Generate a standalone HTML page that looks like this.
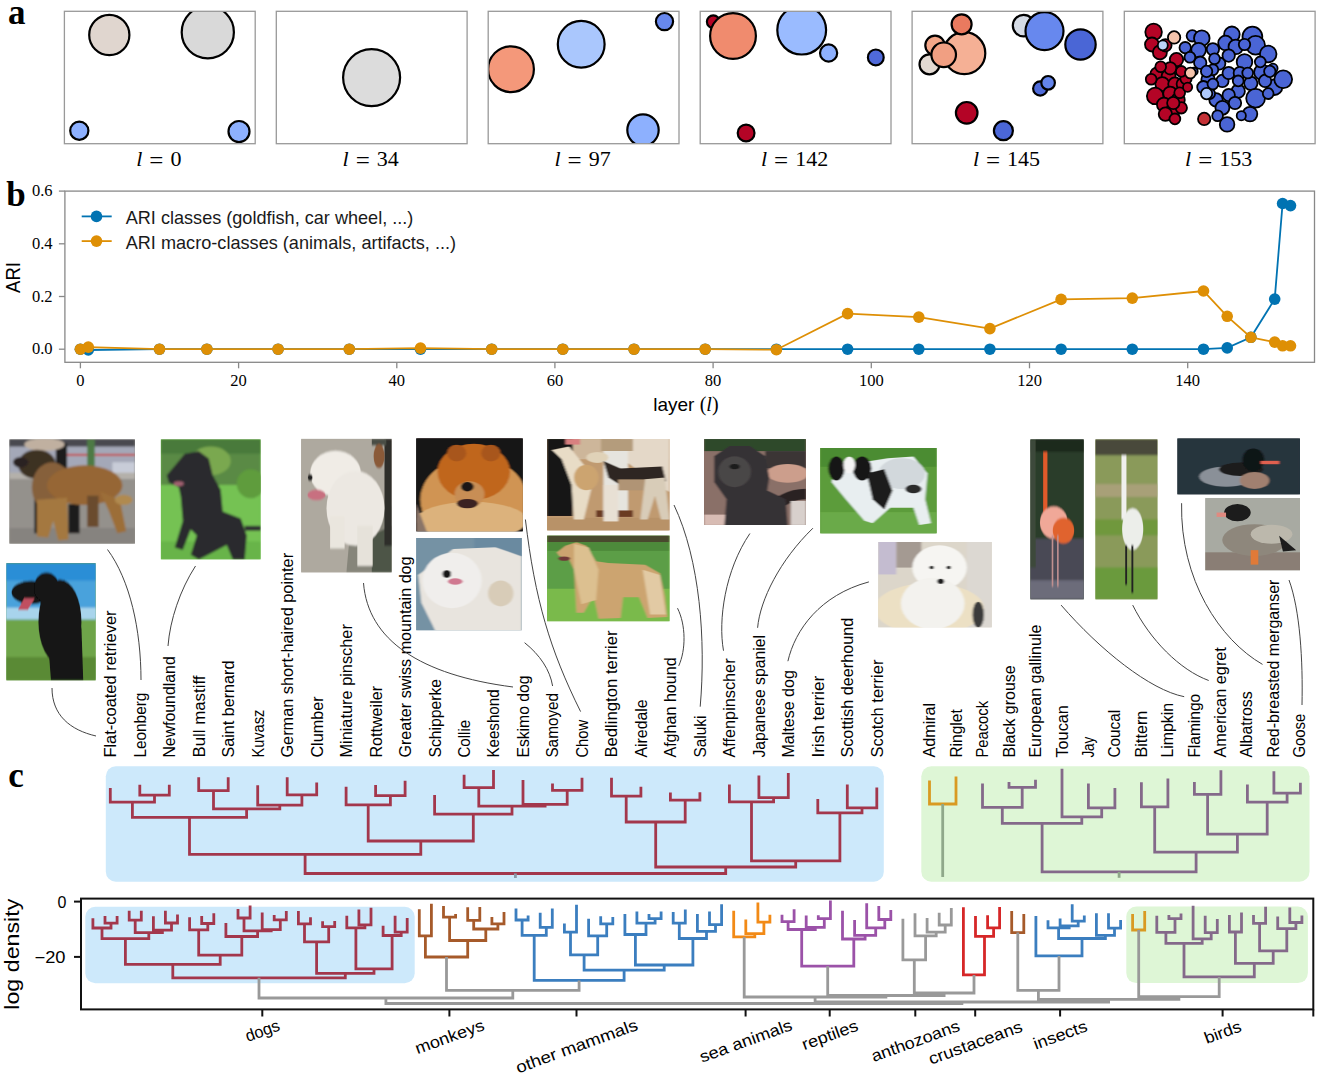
<!DOCTYPE html>
<html><head><meta charset="utf-8"><style>html,body{margin:0;padding:0;background:#fff;}svg{display:block;}</style></head>
<body><svg width="1328" height="1079" viewBox="0 0 1328 1079">
<rect width="1328" height="1079" fill="#fff"/>
<text x="8" y="23.5" font-family='"Liberation Serif", serif' font-weight="bold" font-size="35">a</text>
<text x="6.3" y="205.5" font-family='"Liberation Serif", serif' font-weight="bold" font-size="35">b</text>
<text x="8.2" y="787" font-family='"Liberation Serif", serif' font-weight="bold" font-size="35">c</text>
<defs>
<clipPath id="ca0"><rect x="64.4" y="11.3" width="190.8" height="132.4"/></clipPath>
<clipPath id="ca1"><rect x="276.3" y="11.3" width="190.8" height="132.4"/></clipPath>
<clipPath id="ca2"><rect x="488.2" y="11.3" width="190.8" height="132.4"/></clipPath>
<clipPath id="ca3"><rect x="700.2" y="11.3" width="190.8" height="132.4"/></clipPath>
<clipPath id="ca4"><rect x="912.1" y="11.3" width="190.8" height="132.4"/></clipPath>
<clipPath id="ca5"><rect x="1124.3" y="11.3" width="190.8" height="132.4"/></clipPath>
</defs>
<g clip-path="url(#ca0)">
<circle cx="109.3" cy="35.0" r="20.1" fill="#e0d6cf" stroke="#000" stroke-width="2.2"/>
<circle cx="207.8" cy="32.2" r="26.1" fill="#d9d9d9" stroke="#000" stroke-width="2.2"/>
<circle cx="79.3" cy="130.7" r="9.1" fill="#8db0fe" stroke="#000" stroke-width="2.2"/>
<circle cx="239.0" cy="131.5" r="10.5" fill="#8db0fe" stroke="#000" stroke-width="2.2"/>
</g>
<rect x="64.4" y="11.3" width="190.8" height="132.4" fill="none" stroke="#999" stroke-width="1.3"/>
<text x="158.8" y="166" text-anchor="middle" font-family='"Liberation Serif", serif' font-size="22"><tspan font-style="italic">l</tspan><tspan dx="7" dy="2.5" font-size="25">=</tspan><tspan dx="7" dy="-2.5">0</tspan></text>
<g clip-path="url(#ca1)">
<circle cx="371.6" cy="77.6" r="28.5" fill="#dcdcdc" stroke="#000" stroke-width="2.2"/>
</g>
<rect x="276.3" y="11.3" width="190.8" height="132.4" fill="none" stroke="#999" stroke-width="1.3"/>
<text x="370.70000000000005" y="166" text-anchor="middle" font-family='"Liberation Serif", serif' font-size="22"><tspan font-style="italic">l</tspan><tspan dx="7" dy="2.5" font-size="25">=</tspan><tspan dx="7" dy="-2.5">34</tspan></text>
<g clip-path="url(#ca2)">
<circle cx="511.0" cy="69.2" r="22.9" fill="#f4987a" stroke="#000" stroke-width="2.2"/>
<circle cx="581.2" cy="44.3" r="23.4" fill="#aac7fd" stroke="#000" stroke-width="2.2"/>
<circle cx="664.5" cy="21.6" r="8.6" fill="#6788ee" stroke="#000" stroke-width="2.2"/>
<circle cx="643.0" cy="130.1" r="15.7" fill="#8db0fe" stroke="#000" stroke-width="2.2"/>
</g>
<rect x="488.2" y="11.3" width="190.8" height="132.4" fill="none" stroke="#999" stroke-width="1.3"/>
<text x="582.6" y="166" text-anchor="middle" font-family='"Liberation Serif", serif' font-size="22"><tspan font-style="italic">l</tspan><tspan dx="7" dy="2.5" font-size="25">=</tspan><tspan dx="7" dy="-2.5">97</tspan></text>
<g clip-path="url(#ca3)">
<circle cx="713.3" cy="21.7" r="6.4" fill="#b40426" stroke="#000" stroke-width="2.2"/>
<circle cx="733.0" cy="36.0" r="22.9" fill="#f08b6e" stroke="#000" stroke-width="2.2"/>
<circle cx="801.7" cy="30.1" r="24.4" fill="#9abbff" stroke="#000" stroke-width="2.2"/>
<circle cx="828.6" cy="53.0" r="8.6" fill="#8db0fe" stroke="#000" stroke-width="2.2"/>
<circle cx="875.8" cy="57.4" r="7.9" fill="#4f69d9" stroke="#000" stroke-width="2.2"/>
<circle cx="746.1" cy="133.0" r="8.4" fill="#b40426" stroke="#000" stroke-width="2.2"/>
</g>
<rect x="700.2" y="11.3" width="190.8" height="132.4" fill="none" stroke="#999" stroke-width="1.3"/>
<text x="794.6" y="166" text-anchor="middle" font-family='"Liberation Serif", serif' font-size="22"><tspan font-style="italic">l</tspan><tspan dx="7" dy="2.5" font-size="25">=</tspan><tspan dx="7" dy="-2.5">142</tspan></text>
<g clip-path="url(#ca4)">
<circle cx="929.5" cy="64.3" r="10.0" fill="#e2d9d2" stroke="#000" stroke-width="2.2"/>
<circle cx="964.3" cy="53.2" r="21.0" fill="#f5b095" stroke="#000" stroke-width="2.2"/>
<circle cx="935.0" cy="45.3" r="9.7" fill="#f3a688" stroke="#000" stroke-width="2.2"/>
<circle cx="943.7" cy="54.8" r="12.3" fill="#f19f82" stroke="#000" stroke-width="2.2"/>
<circle cx="961.6" cy="24.3" r="10.0" fill="#e97a5f" stroke="#000" stroke-width="2.2"/>
<circle cx="1023.6" cy="25.6" r="10.8" fill="#d5dbe5" stroke="#000" stroke-width="2.2"/>
<circle cx="1044.5" cy="31.1" r="19.0" fill="#6788ee" stroke="#000" stroke-width="2.2"/>
<circle cx="1080.5" cy="44.5" r="15.2" fill="#4a66d6" stroke="#000" stroke-width="2.2"/>
<circle cx="1040.2" cy="88.5" r="7.1" fill="#4f6bd9" stroke="#000" stroke-width="2.2"/>
<circle cx="1048.1" cy="82.8" r="6.8" fill="#6384eb" stroke="#000" stroke-width="2.2"/>
<circle cx="966.7" cy="112.8" r="10.8" fill="#b40426" stroke="#000" stroke-width="2.2"/>
<circle cx="1003.4" cy="130.7" r="9.5" fill="#4b67d7" stroke="#000" stroke-width="2.2"/>
</g>
<rect x="912.1" y="11.3" width="190.8" height="132.4" fill="none" stroke="#999" stroke-width="1.3"/>
<text x="1006.5" y="166" text-anchor="middle" font-family='"Liberation Serif", serif' font-size="22"><tspan font-style="italic">l</tspan><tspan dx="7" dy="2.5" font-size="25">=</tspan><tspan dx="7" dy="-2.5">145</tspan></text>
<g clip-path="url(#ca5)">
<circle cx="1153.6" cy="31.9" r="8.3" fill="#b40426" stroke="#000" stroke-width="1.8"/>
<circle cx="1152.0" cy="44.5" r="7.0" fill="#b40426" stroke="#000" stroke-width="1.8"/>
<circle cx="1159.9" cy="52.4" r="7.0" fill="#b40426" stroke="#000" stroke-width="1.8"/>
<circle cx="1165.4" cy="45.3" r="6.2" fill="#b40426" stroke="#000" stroke-width="1.8"/>
<circle cx="1176.5" cy="59.6" r="6.7" fill="#b40426" stroke="#000" stroke-width="1.8"/>
<circle cx="1157.5" cy="74.6" r="7.3" fill="#b40426" stroke="#000" stroke-width="1.8"/>
<circle cx="1168.6" cy="76.2" r="7.0" fill="#b40426" stroke="#000" stroke-width="1.8"/>
<circle cx="1162.3" cy="84.1" r="7.0" fill="#b40426" stroke="#000" stroke-width="1.8"/>
<circle cx="1174.9" cy="84.1" r="6.7" fill="#b40426" stroke="#000" stroke-width="1.8"/>
<circle cx="1182.8" cy="84.1" r="6.2" fill="#b40426" stroke="#000" stroke-width="1.8"/>
<circle cx="1155.2" cy="95.9" r="8.3" fill="#b40426" stroke="#000" stroke-width="1.8"/>
<circle cx="1170.2" cy="93.6" r="7.0" fill="#b40426" stroke="#000" stroke-width="1.8"/>
<circle cx="1178.1" cy="99.9" r="6.7" fill="#b40426" stroke="#000" stroke-width="1.8"/>
<circle cx="1163.9" cy="104.6" r="7.0" fill="#b40426" stroke="#000" stroke-width="1.8"/>
<circle cx="1171.8" cy="112.5" r="7.3" fill="#b40426" stroke="#000" stroke-width="1.8"/>
<circle cx="1165.4" cy="114.1" r="6.7" fill="#b40426" stroke="#000" stroke-width="1.8"/>
<circle cx="1181.3" cy="107.8" r="5.7" fill="#b40426" stroke="#000" stroke-width="1.8"/>
<circle cx="1186.0" cy="78.5" r="5.7" fill="#b40426" stroke="#000" stroke-width="1.8"/>
<circle cx="1170.2" cy="68.3" r="6.2" fill="#b40426" stroke="#000" stroke-width="1.8"/>
<circle cx="1181.3" cy="71.4" r="5.4" fill="#b40426" stroke="#000" stroke-width="1.8"/>
<circle cx="1160.7" cy="66.7" r="5.4" fill="#b40426" stroke="#000" stroke-width="1.8"/>
<circle cx="1151.2" cy="79.3" r="5.4" fill="#b40426" stroke="#000" stroke-width="1.8"/>
<circle cx="1173.3" cy="103.0" r="6.2" fill="#b40426" stroke="#000" stroke-width="1.8"/>
<circle cx="1179.7" cy="92.8" r="5.4" fill="#b40426" stroke="#000" stroke-width="1.8"/>
<circle cx="1187.6" cy="87.2" r="4.6" fill="#b40426" stroke="#000" stroke-width="1.8"/>
<circle cx="1174.9" cy="118.9" r="5.4" fill="#b40426" stroke="#000" stroke-width="1.8"/>
<circle cx="1174.1" cy="37.4" r="6.2" fill="#f5c4ac" stroke="#000" stroke-width="1.8"/>
<circle cx="1162.8" cy="45.3" r="5.0" fill="#bcd2f7" stroke="#000" stroke-width="1.8"/>
<circle cx="1192.3" cy="35.8" r="5.7" fill="#4a65d5" stroke="#000" stroke-width="1.8"/>
<circle cx="1201.8" cy="38.2" r="7.8" fill="#4a65d5" stroke="#000" stroke-width="1.8"/>
<circle cx="1185.2" cy="47.7" r="5.7" fill="#4a65d5" stroke="#000" stroke-width="1.8"/>
<circle cx="1212.9" cy="49.3" r="6.2" fill="#4a65d5" stroke="#000" stroke-width="1.8"/>
<circle cx="1198.6" cy="50.1" r="7.3" fill="#4a65d5" stroke="#000" stroke-width="1.8"/>
<circle cx="1200.2" cy="62.7" r="6.2" fill="#4a65d5" stroke="#000" stroke-width="1.8"/>
<circle cx="1219.2" cy="63.5" r="6.2" fill="#4a65d5" stroke="#000" stroke-width="1.8"/>
<circle cx="1231.9" cy="34.3" r="7.8" fill="#4a65d5" stroke="#000" stroke-width="1.8"/>
<circle cx="1225.5" cy="43.0" r="7.3" fill="#4a65d5" stroke="#000" stroke-width="1.8"/>
<circle cx="1235.8" cy="46.9" r="7.3" fill="#4a65d5" stroke="#000" stroke-width="1.8"/>
<circle cx="1252.4" cy="36.6" r="9.9" fill="#4a65d5" stroke="#000" stroke-width="1.8"/>
<circle cx="1255.6" cy="45.3" r="9.4" fill="#4a65d5" stroke="#000" stroke-width="1.8"/>
<circle cx="1268.2" cy="54.0" r="8.3" fill="#4a65d5" stroke="#000" stroke-width="1.8"/>
<circle cx="1244.5" cy="61.9" r="7.8" fill="#4a65d5" stroke="#000" stroke-width="1.8"/>
<circle cx="1273.0" cy="68.3" r="4.6" fill="#4a65d5" stroke="#000" stroke-width="1.8"/>
<circle cx="1261.9" cy="72.2" r="7.8" fill="#4a65d5" stroke="#000" stroke-width="1.8"/>
<circle cx="1274.5" cy="87.2" r="7.8" fill="#4a65d5" stroke="#000" stroke-width="1.8"/>
<circle cx="1283.2" cy="79.3" r="8.9" fill="#4a65d5" stroke="#000" stroke-width="1.8"/>
<circle cx="1250.8" cy="83.3" r="6.7" fill="#4a65d5" stroke="#000" stroke-width="1.8"/>
<circle cx="1238.2" cy="91.2" r="6.7" fill="#4a65d5" stroke="#000" stroke-width="1.8"/>
<circle cx="1222.4" cy="80.9" r="6.2" fill="#4a65d5" stroke="#000" stroke-width="1.8"/>
<circle cx="1208.1" cy="79.3" r="6.7" fill="#4a65d5" stroke="#000" stroke-width="1.8"/>
<circle cx="1203.4" cy="87.2" r="6.2" fill="#4a65d5" stroke="#000" stroke-width="1.8"/>
<circle cx="1216.0" cy="99.9" r="6.7" fill="#4a65d5" stroke="#000" stroke-width="1.8"/>
<circle cx="1228.7" cy="95.1" r="6.2" fill="#4a65d5" stroke="#000" stroke-width="1.8"/>
<circle cx="1222.4" cy="107.8" r="7.0" fill="#4a65d5" stroke="#000" stroke-width="1.8"/>
<circle cx="1235.0" cy="103.0" r="6.2" fill="#4a65d5" stroke="#000" stroke-width="1.8"/>
<circle cx="1255.6" cy="98.3" r="9.4" fill="#4a65d5" stroke="#000" stroke-width="1.8"/>
<circle cx="1250.0" cy="114.1" r="7.3" fill="#4a65d5" stroke="#000" stroke-width="1.8"/>
<circle cx="1227.1" cy="124.4" r="7.3" fill="#4a65d5" stroke="#000" stroke-width="1.8"/>
<circle cx="1193.9" cy="71.4" r="3.8" fill="#4a65d5" stroke="#000" stroke-width="1.8"/>
<circle cx="1212.9" cy="69.8" r="5.4" fill="#4a65d5" stroke="#000" stroke-width="1.8"/>
<circle cx="1228.7" cy="73.0" r="6.2" fill="#4a65d5" stroke="#000" stroke-width="1.8"/>
<circle cx="1239.8" cy="73.0" r="6.2" fill="#4a65d5" stroke="#000" stroke-width="1.8"/>
<circle cx="1214.5" cy="58.8" r="5.4" fill="#4a65d5" stroke="#000" stroke-width="1.8"/>
<circle cx="1228.7" cy="55.6" r="6.2" fill="#4a65d5" stroke="#000" stroke-width="1.8"/>
<circle cx="1238.2" cy="80.9" r="5.4" fill="#4a65d5" stroke="#000" stroke-width="1.8"/>
<circle cx="1265.1" cy="80.9" r="6.2" fill="#4a65d5" stroke="#000" stroke-width="1.8"/>
<circle cx="1268.2" cy="93.6" r="5.4" fill="#4a65d5" stroke="#000" stroke-width="1.8"/>
<circle cx="1209.7" cy="93.6" r="5.4" fill="#4a65d5" stroke="#000" stroke-width="1.8"/>
<circle cx="1260.3" cy="61.9" r="5.4" fill="#4a65d5" stroke="#000" stroke-width="1.8"/>
<circle cx="1247.7" cy="73.0" r="5.4" fill="#4a65d5" stroke="#000" stroke-width="1.8"/>
<circle cx="1189.9" cy="57.2" r="5.4" fill="#4a65d5" stroke="#000" stroke-width="1.8"/>
<circle cx="1206.6" cy="71.4" r="5.7" fill="#4a65d5" stroke="#000" stroke-width="1.8"/>
<circle cx="1212.9" cy="84.1" r="5.4" fill="#4a65d5" stroke="#000" stroke-width="1.8"/>
<circle cx="1244.5" cy="44.5" r="5.7" fill="#4a65d5" stroke="#000" stroke-width="1.8"/>
<circle cx="1269.8" cy="71.4" r="5.7" fill="#4a65d5" stroke="#000" stroke-width="1.8"/>
<circle cx="1217.6" cy="115.7" r="5.4" fill="#4a65d5" stroke="#000" stroke-width="1.8"/>
<circle cx="1241.3" cy="115.7" r="4.6" fill="#4a65d5" stroke="#000" stroke-width="1.8"/>
<circle cx="1190.4" cy="73.0" r="5.4" fill="#f5c4ac" stroke="#000" stroke-width="1.8"/>
<circle cx="1206.6" cy="93.6" r="5.7" fill="#aec9fc" stroke="#000" stroke-width="1.8"/>
<circle cx="1204.2" cy="118.9" r="6.2" fill="#c43136" stroke="#000" stroke-width="1.8"/>
</g>
<rect x="1124.3" y="11.3" width="190.8" height="132.4" fill="none" stroke="#999" stroke-width="1.3"/>
<text x="1218.7" y="166" text-anchor="middle" font-family='"Liberation Serif", serif' font-size="22"><tspan font-style="italic">l</tspan><tspan dx="7" dy="2.5" font-size="25">=</tspan><tspan dx="7" dy="-2.5">153</tspan></text>
<rect x="64.9" y="191.1" width="1249.6" height="171.20000000000002" fill="none" stroke="#888" stroke-width="1.3"/>
<line x1="58.900000000000006" y1="349.2" x2="64.9" y2="349.2" stroke="#888" stroke-width="1.3"/>
<text x="52.5" y="354.2" text-anchor="end" font-family='"Liberation Serif", serif' font-size="16.5">0.0</text>
<line x1="58.900000000000006" y1="296.5" x2="64.9" y2="296.5" stroke="#888" stroke-width="1.3"/>
<text x="52.5" y="301.5" text-anchor="end" font-family='"Liberation Serif", serif' font-size="16.5">0.2</text>
<line x1="58.900000000000006" y1="243.8" x2="64.9" y2="243.8" stroke="#888" stroke-width="1.3"/>
<text x="52.5" y="248.8" text-anchor="end" font-family='"Liberation Serif", serif' font-size="16.5">0.4</text>
<line x1="58.900000000000006" y1="191.1" x2="64.9" y2="191.1" stroke="#888" stroke-width="1.3"/>
<text x="52.5" y="196.1" text-anchor="end" font-family='"Liberation Serif", serif' font-size="16.5">0.6</text>
<line x1="80.4" y1="362.3" x2="80.4" y2="368.3" stroke="#888" stroke-width="1.3"/>
<text x="80.4" y="385.6" text-anchor="middle" font-family='"Liberation Serif", serif' font-size="16.5">0</text>
<line x1="238.6" y1="362.3" x2="238.6" y2="368.3" stroke="#888" stroke-width="1.3"/>
<text x="238.6" y="385.6" text-anchor="middle" font-family='"Liberation Serif", serif' font-size="16.5">20</text>
<line x1="396.8" y1="362.3" x2="396.8" y2="368.3" stroke="#888" stroke-width="1.3"/>
<text x="396.8" y="385.6" text-anchor="middle" font-family='"Liberation Serif", serif' font-size="16.5">40</text>
<line x1="554.9" y1="362.3" x2="554.9" y2="368.3" stroke="#888" stroke-width="1.3"/>
<text x="554.9" y="385.6" text-anchor="middle" font-family='"Liberation Serif", serif' font-size="16.5">60</text>
<line x1="713.1" y1="362.3" x2="713.1" y2="368.3" stroke="#888" stroke-width="1.3"/>
<text x="713.1" y="385.6" text-anchor="middle" font-family='"Liberation Serif", serif' font-size="16.5">80</text>
<line x1="871.3" y1="362.3" x2="871.3" y2="368.3" stroke="#888" stroke-width="1.3"/>
<text x="871.3" y="385.6" text-anchor="middle" font-family='"Liberation Serif", serif' font-size="16.5">100</text>
<line x1="1029.5" y1="362.3" x2="1029.5" y2="368.3" stroke="#888" stroke-width="1.3"/>
<text x="1029.5" y="385.6" text-anchor="middle" font-family='"Liberation Serif", serif' font-size="16.5">120</text>
<line x1="1187.7" y1="362.3" x2="1187.7" y2="368.3" stroke="#888" stroke-width="1.3"/>
<text x="1187.7" y="385.6" text-anchor="middle" font-family='"Liberation Serif", serif' font-size="16.5">140</text>
<polyline points="80.4,349.2 88.3,350.0 159.5,349.2 206.9,349.2 278.1,349.2 349.3,349.2 420.5,349.2 491.7,349.2 562.8,349.2 634.0,349.2 705.2,349.2 776.4,349.2 847.6,349.2 918.8,349.2 989.9,349.2 1061.1,349.2 1132.3,349.2 1203.5,349.2 1227.2,347.9 1250.9,337.3 1274.7,299.1 1282.6,203.5 1290.5,205.6" fill="none" stroke="#0173b2" stroke-width="1.8"/>
<circle cx="80.4" cy="349.2" r="5.8" fill="#0173b2"/>
<circle cx="88.3" cy="350.0" r="5.8" fill="#0173b2"/>
<circle cx="159.5" cy="349.2" r="5.8" fill="#0173b2"/>
<circle cx="206.9" cy="349.2" r="5.8" fill="#0173b2"/>
<circle cx="278.1" cy="349.2" r="5.8" fill="#0173b2"/>
<circle cx="349.3" cy="349.2" r="5.8" fill="#0173b2"/>
<circle cx="420.5" cy="349.2" r="5.8" fill="#0173b2"/>
<circle cx="491.7" cy="349.2" r="5.8" fill="#0173b2"/>
<circle cx="562.8" cy="349.2" r="5.8" fill="#0173b2"/>
<circle cx="634.0" cy="349.2" r="5.8" fill="#0173b2"/>
<circle cx="705.2" cy="349.2" r="5.8" fill="#0173b2"/>
<circle cx="776.4" cy="349.2" r="5.8" fill="#0173b2"/>
<circle cx="847.6" cy="349.2" r="5.8" fill="#0173b2"/>
<circle cx="918.8" cy="349.2" r="5.8" fill="#0173b2"/>
<circle cx="989.9" cy="349.2" r="5.8" fill="#0173b2"/>
<circle cx="1061.1" cy="349.2" r="5.8" fill="#0173b2"/>
<circle cx="1132.3" cy="349.2" r="5.8" fill="#0173b2"/>
<circle cx="1203.5" cy="349.2" r="5.8" fill="#0173b2"/>
<circle cx="1227.2" cy="347.9" r="5.8" fill="#0173b2"/>
<circle cx="1250.9" cy="337.3" r="5.8" fill="#0173b2"/>
<circle cx="1274.7" cy="299.1" r="5.8" fill="#0173b2"/>
<circle cx="1282.6" cy="203.5" r="5.8" fill="#0173b2"/>
<circle cx="1290.5" cy="205.6" r="5.8" fill="#0173b2"/>
<polyline points="80.4,349.2 88.3,347.1 159.5,349.2 206.9,349.2 278.1,349.2 349.3,349.2 420.5,348.1 491.7,349.2 562.8,349.2 634.0,349.2 705.2,349.2 776.4,349.7 847.6,313.6 918.8,317.1 989.9,328.6 1061.1,299.4 1132.3,298.1 1203.5,291.0 1227.2,316.3 1250.9,337.3 1274.7,342.1 1282.6,345.8 1290.5,345.8" fill="none" stroke="#de8f05" stroke-width="1.8"/>
<circle cx="80.4" cy="349.2" r="5.8" fill="#de8f05"/>
<circle cx="88.3" cy="347.1" r="5.8" fill="#de8f05"/>
<circle cx="159.5" cy="349.2" r="5.8" fill="#de8f05"/>
<circle cx="206.9" cy="349.2" r="5.8" fill="#de8f05"/>
<circle cx="278.1" cy="349.2" r="5.8" fill="#de8f05"/>
<circle cx="349.3" cy="349.2" r="5.8" fill="#de8f05"/>
<circle cx="420.5" cy="348.1" r="5.8" fill="#de8f05"/>
<circle cx="491.7" cy="349.2" r="5.8" fill="#de8f05"/>
<circle cx="562.8" cy="349.2" r="5.8" fill="#de8f05"/>
<circle cx="634.0" cy="349.2" r="5.8" fill="#de8f05"/>
<circle cx="705.2" cy="349.2" r="5.8" fill="#de8f05"/>
<circle cx="776.4" cy="349.7" r="5.8" fill="#de8f05"/>
<circle cx="847.6" cy="313.6" r="5.8" fill="#de8f05"/>
<circle cx="918.8" cy="317.1" r="5.8" fill="#de8f05"/>
<circle cx="989.9" cy="328.6" r="5.8" fill="#de8f05"/>
<circle cx="1061.1" cy="299.4" r="5.8" fill="#de8f05"/>
<circle cx="1132.3" cy="298.1" r="5.8" fill="#de8f05"/>
<circle cx="1203.5" cy="291.0" r="5.8" fill="#de8f05"/>
<circle cx="1227.2" cy="316.3" r="5.8" fill="#de8f05"/>
<circle cx="1250.9" cy="337.3" r="5.8" fill="#de8f05"/>
<circle cx="1274.7" cy="342.1" r="5.8" fill="#de8f05"/>
<circle cx="1282.6" cy="345.8" r="5.8" fill="#de8f05"/>
<circle cx="1290.5" cy="345.8" r="5.8" fill="#de8f05"/>
<line x1="81.7" y1="216.4" x2="111.7" y2="216.4" stroke="#0173b2" stroke-width="1.8"/><circle cx="96.5" cy="216.4" r="5.8" fill="#0173b2"/>
<line x1="81.7" y1="241.1" x2="111.7" y2="241.1" stroke="#de8f05" stroke-width="1.8"/><circle cx="96.5" cy="241.1" r="5.8" fill="#de8f05"/>
<text x="125.7" y="223.6" font-family='"Liberation Sans", sans-serif' fill="#1a1a1a" font-size="18.5" textLength="287.7" lengthAdjust="spacingAndGlyphs">ARI classes (goldfish, car wheel, ...)</text>
<text x="125.7" y="249.2" font-family='"Liberation Sans", sans-serif' fill="#1a1a1a" font-size="18.5" textLength="330.4" lengthAdjust="spacingAndGlyphs">ARI macro-classes (animals, artifacts, ...)</text>
<text transform="translate(20.3,277.5) rotate(-90)" text-anchor="middle" font-family='"Liberation Sans", sans-serif' font-size="20" textLength="31" lengthAdjust="spacingAndGlyphs">ARI</text>
<text x="653.2" y="411.4" font-family='"Liberation Sans", sans-serif' font-size="19">layer <tspan font-family='"Liberation Serif", serif' font-size="20">(<tspan font-style="italic">l</tspan>)</tspan></text>
<defs><filter id="pblur" x="-5%" y="-5%" width="110%" height="110%"><feGaussianBlur stdDeviation="0.8"/></filter></defs>
<svg x="9.25" y="439.25" width="125.75" height="104.50" viewBox="0 0 100 100" preserveAspectRatio="none" overflow="hidden"><rect width="100" height="100" fill="#94918c"/><g filter="url(#pblur)">
<rect width="100" height="100" fill="#94918c"/>
<rect width="100" height="8" fill="#4a4a50"/>
<rect y="7" width="100" height="27" fill="#a4a8b8"/>
<rect x="40" y="14" width="60" height="2" fill="#c05050"/>
<rect x="62" y="0" width="6" height="26" fill="#4e7a44"/>
<rect x="82" y="22" width="18" height="16" fill="#c8ccd8"/>
<rect x="0" y="32" width="100" height="6" fill="#b4b0aa"/>
<rect x="0" y="85" width="100" height="15" fill="#86837f"/>
<rect x="20" y="45" width="9" height="45" fill="#1c1c1c"/>
<rect x="37" y="4" width="9" height="40" fill="#1e1e1e"/>
<rect x="47" y="62" width="9" height="28" fill="#1e1e1e"/>
<ellipse cx="28" cy="5" rx="16" ry="6" fill="#c0b0a0"/>
<ellipse cx="22" cy="24" rx="15" ry="14" fill="#3e3024"/>
<ellipse cx="9" cy="22" rx="6" ry="5" fill="#2a2420"/>
<ellipse cx="34" cy="46" rx="16" ry="24" fill="#86603a"/>
<ellipse cx="60" cy="44" rx="30" ry="19" fill="#966634"/>
<path d="M22,58 L46,56 L47,96 L39,97 L35,78 L31,94 L22,93 Z" fill="#a47840"/>
<rect x="62" y="54" width="9" height="30" fill="#6a4c2e"/>
<path d="M72,50 L88,58 L93,88 L86,90 L79,68 Z" fill="#9c6e38"/>
<ellipse cx="91" cy="58" rx="7" ry="5" fill="#b08a50"/>
</g></svg>
<svg x="160.75" y="439.25" width="100.00" height="120.25" viewBox="0 0 100 100" preserveAspectRatio="none" overflow="hidden"><rect width="100" height="100" fill="#74c252"/><g filter="url(#pblur)">
<rect width="100" height="100" fill="#74c252"/>
<rect width="100" height="38" fill="#5a8a44"/>
<rect width="100" height="12" fill="#4a7a3a"/>
<ellipse cx="50" cy="18" rx="20" ry="12" fill="#7aa850"/>
<ellipse cx="90" cy="37" rx="14" ry="12" fill="#5e9c3e"/>
<rect y="85" width="100" height="15" fill="#68b448"/>
<path d="M6,30 L14,22 L24,12 L38,10 L48,16 L52,30 L60,42 L62,60 L80,66 L86,80 L84,100 L72,100 L66,88 L45,97 L38,100 L30,96 L36,80 L30,75 L22,92 L14,90 L22,68 L20,48 L18,40 L8,36 Z" fill="#2a2a2e"/>
<rect x="84" y="72" width="16" height="4" fill="#2e2e30"/>
<ellipse cx="18" cy="37" rx="5" ry="2" fill="#a06070"/>
</g></svg>
<svg x="6.25" y="563" width="89.50" height="117.50" viewBox="0 0 100 100" preserveAspectRatio="none" overflow="hidden"><rect width="100" height="100" fill="#6ea448"/><g filter="url(#pblur)">
<rect width="100" height="100" fill="#6ea448"/>
<rect width="100" height="48" fill="#4aa2dc"/>
<rect width="100" height="15" fill="#2a8ed6"/>
<rect y="38" width="100" height="10" fill="#a8d4ec"/>
<rect y="80" width="100" height="20" fill="#5a8a36"/>
<ellipse cx="28" cy="25" rx="22" ry="10" fill="#121212"/>
<ellipse cx="45" cy="21" rx="14" ry="13" fill="#121212"/>
<ellipse cx="60" cy="50" rx="24" ry="36" fill="#131313"/>
<path d="M46,60 L84,55 L86,100 L50,100 Z" fill="#141414"/>
<path d="M13,40 L20,30 L32,30 L24,40 Z" fill="#c05060"/>
</g></svg>
<svg x="301.1" y="438.75" width="90.65" height="133.85" viewBox="0 0 100 100" preserveAspectRatio="none" overflow="hidden"><rect width="100" height="100" fill="#aea99f"/><g filter="url(#pblur)">
<rect width="100" height="100" fill="#aea99f"/>
<path d="M55,62 L100,50 L100,100 L50,100 Z" fill="#86857a"/>
<path d="M78,72 L100,65 L100,100 L78,100 Z" fill="#4e5446"/>
<rect x="92" y="0" width="8" height="80" fill="#2e2e2a"/>
<rect x="78" y="0" width="16" height="5" fill="#4a4e44"/>
<ellipse cx="86" cy="13" rx="6" ry="9" fill="#8a5a38"/>
<ellipse cx="38" cy="26" rx="28" ry="17" fill="#f0ece6"/>
<ellipse cx="60" cy="52" rx="32" ry="28" fill="#ece8e2"/>
<rect x="32" y="58" width="16" height="24" fill="#eae6de"/>
<rect x="62" y="65" width="17" height="30" fill="#e6e2da"/>
<ellipse cx="17" cy="42" rx="10" ry="4" fill="#c87080"/>
<circle cx="10" cy="29" r="2.5" fill="#222"/>
</g></svg>
<svg x="416.1" y="438.2" width="106.80" height="93.40" viewBox="0 0 100 100" preserveAspectRatio="none" overflow="hidden"><rect width="100" height="100" fill="#161213"/><g filter="url(#pblur)">
<rect width="100" height="100" fill="#161213"/>
<ellipse cx="54" cy="66" rx="50" ry="46" fill="#d09452"/>
<ellipse cx="52" cy="88" rx="52" ry="20" fill="#dcb27c"/>
<ellipse cx="54" cy="36" rx="34" ry="30" fill="#c0661e"/>
<ellipse cx="38" cy="16" rx="9" ry="9" fill="#a8561a"/>
<ellipse cx="70" cy="16" rx="9" ry="9" fill="#a8561a"/>
<ellipse cx="50" cy="60" rx="14" ry="14" fill="#c88e54"/>
<ellipse cx="48" cy="52" rx="6" ry="5" fill="#1c1818"/>
<ellipse cx="48" cy="70" rx="10" ry="5" fill="#3a2020"/>
<path d="M0,70 L10,100 L0,100 Z" fill="#8a7468"/>
</g></svg>
<svg x="416.1" y="538" width="105.80" height="92.40" viewBox="0 0 100 100" preserveAspectRatio="none" overflow="hidden"><rect width="100" height="100" fill="#7492a4"/><g filter="url(#pblur)">
<rect width="100" height="100" fill="#7492a4"/>
<rect x="55" width="45" height="25" fill="#6a8aa0"/>
<path d="M35,12 L75,10 L100,20 L100,100 L18,100 L5,70 L2,40 Z" fill="#e8e4de"/>
<ellipse cx="34" cy="46" rx="28" ry="30" fill="#f0eeec"/>
<ellipse cx="80" cy="60" rx="12" ry="14" fill="#d8ccb8"/>
<ellipse cx="29" cy="39" rx="4" ry="4" fill="#151515"/>
<ellipse cx="37" cy="47" rx="7" ry="3.5" fill="#d07890"/>
</g></svg>
<svg x="547" y="439.1" width="122.70" height="91.50" viewBox="0 0 100 100" preserveAspectRatio="none" overflow="hidden"><rect width="100" height="100" fill="#c09a70"/><g filter="url(#pblur)">
<rect width="100" height="100" fill="#c09a70"/>
<rect x="20" y="0" width="80" height="22" fill="#cdb69a"/>
<path d="M60,0 H100 V58 L80,40 L60,20 Z" fill="#e4d8c8"/>
<rect y="86" width="100" height="14" fill="#b89268"/>
<rect width="21" height="84" fill="#141414"/>
<rect x="15" y="0" width="12" height="6" fill="#d88080"/>
<rect x="44" y="0" width="26" height="13" fill="#b49c7c"/>
<rect x="46" y="13" width="20" height="68" fill="#e6e4de"/>
<rect x="40" y="78" width="30" height="7" fill="#6a3a24"/>
<path d="M4,12 L18,8 L30,28 L38,40 L36,55 L30,88 L22,88 L20,50 L12,22 Z" fill="#e8dcc6"/>
<ellipse cx="32" cy="42" rx="10" ry="14" fill="#cca470"/>
<ellipse cx="41" cy="20" rx="9" ry="6" fill="#e0d2b8"/>
<path d="M46,24 L60,32 L94,30 L97,46 L62,52 L50,42 Z" fill="#2e2620"/>
<rect x="58" y="44" width="26" height="12" fill="#b09474"/>
<rect x="46" y="50" width="12" height="40" fill="#e8e0d4"/>
<path d="M80,44 L96,42 L100,88 L93,88 L88,62 L82,88 L76,88 Z" fill="#d8ccb8"/>
</g></svg>
<svg x="547" y="535.4" width="122.70" height="86.00" viewBox="0 0 100 100" preserveAspectRatio="none" overflow="hidden"><rect width="100" height="100" fill="#7aba4c"/><g filter="url(#pblur)">
<rect width="100" height="100" fill="#7aba4c"/>
<rect width="100" height="62" fill="#5c9e46"/>
<rect width="100" height="8" fill="#4a4a2e"/>
<rect y="8" width="100" height="10" fill="#4e8a3a"/>
<path d="M8,20 L15,12 L24,8 L32,12 L40,30 L50,32 L80,34 L92,44 L96,70 L98,95 L82,96 L75,72 L62,72 L60,96 L42,97 L38,70 L30,90 L24,90 L22,40 L18,28 L10,24 Z" fill="#cca470"/>
<path d="M22,10 L34,14 L42,40 L40,75 L28,80 L22,40 Z" fill="#dcc090"/>
<path d="M78,40 L92,46 L97,92 L84,92 Z" fill="#e2caa4"/>
<ellipse cx="14" cy="27" rx="5" ry="2.5" fill="#703838"/>
</g></svg>
<svg x="704" y="439.1" width="102.10" height="85.80" viewBox="0 0 100 100" preserveAspectRatio="none" overflow="hidden"><rect width="100" height="100" fill="#8a7068"/><g filter="url(#pblur)">
<rect width="100" height="100" fill="#8a7068"/>
<rect width="100" height="14" fill="#2e4a2c"/>
<rect x="0" y="88" width="60" height="12" fill="#d8bcb4"/>
<rect x="60" y="14" width="40" height="20" fill="#3a3636"/>
<ellipse cx="82" cy="40" rx="20" ry="11" fill="#cc9e8c"/>
<path d="M52,100 Q66,58 100,58 L100,70 Q78,70 64,100 Z" fill="#2a2224"/>
<rect x="85" y="72" width="15" height="28" fill="#d8d0cc"/>
<path d="M10,20 L25,8 L45,8 L60,20 L64,45 L62,60 L80,70 L82,100 L20,100 L22,70 L10,50 Z" fill="#363236"/>
<ellipse cx="30" cy="38" rx="16" ry="18" fill="#4a4646"/>
<ellipse cx="30" cy="32" rx="5" ry="3" fill="#1a1a1a"/>
</g></svg>
<svg x="820.1" y="447.9" width="116.70" height="85.60" viewBox="0 0 100 100" preserveAspectRatio="none" overflow="hidden"><rect width="100" height="100" fill="#5c9c3a"/><g filter="url(#pblur)">
<rect width="100" height="100" fill="#5c9c3a"/>
<rect y="0" width="100" height="22" fill="#4c8c30"/>
<rect y="75" width="100" height="25" fill="#6aaa48"/>
<path d="M58,12 L80,10 L92,30 L90,60 L95,88 L85,90 L80,70 L60,70 L45,88 L38,85 L22,60 L10,40 L12,22 Z" fill="#e8eef0"/>
<ellipse cx="70" cy="30" rx="20" ry="18" fill="#d2d8dc"/>
<ellipse cx="14" cy="24" rx="7" ry="14" fill="#161616"/>
<ellipse cx="36" cy="24" rx="8" ry="14" fill="#161616"/>
<ellipse cx="25" cy="20" rx="5" ry="10" fill="#f4f4f4"/>
<path d="M40,30 L55,25 L62,50 L55,72 L45,60 Z" fill="#1a1a1a"/>
<ellipse cx="80" cy="48" rx="7" ry="5" fill="#2a2a2a"/>
</g></svg>
<svg x="878.1" y="541.9" width="113.80" height="85.60" viewBox="0 0 100 100" preserveAspectRatio="none" overflow="hidden"><rect width="100" height="100" fill="#dcd6ca"/><g filter="url(#pblur)">
<rect width="100" height="100" fill="#dcd6ca"/>
<rect width="16" height="38" fill="#c4bcd0"/>
<rect x="16" width="22" height="30" fill="#a49a92"/>
<rect x="78" width="22" height="100" fill="#dcd8d2"/>
<ellipse cx="45" cy="78" rx="48" ry="30" fill="#ece0c4"/>
<ellipse cx="88" cy="85" rx="5" ry="15" fill="#3a3a3a"/>
<ellipse cx="54" cy="30" rx="24" ry="26" fill="#f6f5f2"/>
<ellipse cx="48" cy="72" rx="28" ry="30" fill="#f3f2ee"/>
<circle cx="47" cy="30" r="2" fill="#222"/>
<circle cx="62" cy="30" r="2" fill="#222"/>
<circle cx="55" cy="46" r="3" fill="#1a1a1a"/>
</g></svg>
<svg x="1030.3" y="439.2" width="53.50" height="160.30" viewBox="0 0 100 100" preserveAspectRatio="none" overflow="hidden"><rect width="100" height="100" fill="#2c3c2a"/><g filter="url(#pblur)">
<rect width="100" height="100" fill="#2c3c2a"/>
<rect x="0" width="100" height="8" fill="#1e2a1e"/>
<rect y="62" width="100" height="38" fill="#4a4a54"/>
<rect y="88" width="100" height="12" fill="#6c6c7a"/>
<rect x="0" width="10" height="80" fill="#3c4a3a"/>
<rect x="24" y="8" width="8" height="38" fill="#e05a2c"/>
<ellipse cx="44" cy="52" rx="26" ry="10" fill="#f0a898"/>
<ellipse cx="62" cy="57" rx="20" ry="8" fill="#e0642e"/>
<rect x="40" y="60" width="3" height="32" fill="#c09090"/>
<rect x="50" y="60" width="3" height="32" fill="#c09090"/>
</g></svg>
<svg x="1095.3" y="439.2" width="62.30" height="160.30" viewBox="0 0 100 100" preserveAspectRatio="none" overflow="hidden"><rect width="100" height="100" fill="#8a9a5a"/><g filter="url(#pblur)">
<rect width="100" height="100" fill="#8a9a5a"/>
<rect width="100" height="10" fill="#4a4a3a"/>
<rect y="28" width="100" height="8" fill="#a8a078"/>
<rect y="50" width="100" height="10" fill="#70983e"/>
<rect y="80" width="100" height="20" fill="#6a9a3e"/>
<rect x="42" y="10" width="8" height="40" fill="#f0f0ee"/>
<ellipse cx="60" cy="56" rx="17" ry="13" fill="#eceeea"/>
<rect x="48" y="66" width="3" height="25" fill="#222"/>
<rect x="58" y="66" width="3" height="30" fill="#222"/>
</g></svg>
<svg x="1177.2" y="438.3" width="122.80" height="56.30" viewBox="0 0 100 100" preserveAspectRatio="none" overflow="hidden"><rect width="100" height="100" fill="#28363e"/><g filter="url(#pblur)">
<rect width="100" height="100" fill="#28363e"/>
<ellipse cx="40" cy="68" rx="22" ry="18" fill="#8a9098"/>
<ellipse cx="52" cy="55" rx="18" ry="12" fill="#1a1a1a"/>
<ellipse cx="63" cy="75" rx="12" ry="15" fill="#a08070"/>
<ellipse cx="62" cy="38" rx="9" ry="20" fill="#101212"/>
<rect x="68" y="40" width="15" height="6" fill="#e06050"/>
</g></svg>
<svg x="1205.2" y="498.1" width="94.80" height="72.30" viewBox="0 0 100 100" preserveAspectRatio="none" overflow="hidden"><rect width="100" height="100" fill="#a8aaa2"/><g filter="url(#pblur)">
<rect width="100" height="100" fill="#a8aaa2"/>
<rect y="75" width="100" height="25" fill="#8a7e74"/>
<ellipse cx="52" cy="58" rx="34" ry="22" fill="#8e877c"/>
<ellipse cx="70" cy="50" rx="22" ry="13" fill="#bcb8ac"/>
<ellipse cx="34" cy="20" rx="14" ry="12" fill="#1a1a1a"/>
<rect x="12" y="20" width="10" height="6" fill="#e08a80"/>
<path d="M78,52 L96,72 L82,74 Z" fill="#1a1a1a"/>
<rect x="48" y="72" width="8" height="20" fill="#e07a38"/>
</g></svg>
<text transform="translate(116.2,757.6) rotate(-90)" font-family='"Liberation Sans", sans-serif' font-size="16.5" textLength="147.1" lengthAdjust="spacingAndGlyphs">Flat-coated retriever</text>
<text transform="translate(145.7,757.6) rotate(-90)" font-family='"Liberation Sans", sans-serif' font-size="16.5" textLength="65" lengthAdjust="spacingAndGlyphs">Leonberg</text>
<text transform="translate(175.2,757.6) rotate(-90)" font-family='"Liberation Sans", sans-serif' font-size="16.5" textLength="101.3" lengthAdjust="spacingAndGlyphs">Newfoundland</text>
<text transform="translate(204.6,757.6) rotate(-90)" font-family='"Liberation Sans", sans-serif' font-size="16.5" textLength="82.1" lengthAdjust="spacingAndGlyphs">Bull mastiff</text>
<text transform="translate(234.1,757.6) rotate(-90)" font-family='"Liberation Sans", sans-serif' font-size="16.5" textLength="97" lengthAdjust="spacingAndGlyphs">Saint bernard</text>
<text transform="translate(263.6,757.6) rotate(-90)" font-family='"Liberation Sans", sans-serif' font-size="16.5" textLength="48" lengthAdjust="spacingAndGlyphs">Kuvasz</text>
<text transform="translate(293.1,757.6) rotate(-90)" font-family='"Liberation Sans", sans-serif' font-size="16.5" textLength="204.7" lengthAdjust="spacingAndGlyphs">German short-haired pointer</text>
<text transform="translate(322.6,757.6) rotate(-90)" font-family='"Liberation Sans", sans-serif' font-size="16.5" textLength="61.2" lengthAdjust="spacingAndGlyphs">Clumber</text>
<text transform="translate(352.0,757.6) rotate(-90)" font-family='"Liberation Sans", sans-serif' font-size="16.5" textLength="133.5" lengthAdjust="spacingAndGlyphs">Miniature pinscher</text>
<text transform="translate(381.5,757.6) rotate(-90)" font-family='"Liberation Sans", sans-serif' font-size="16.5" textLength="71.7" lengthAdjust="spacingAndGlyphs">Rottweiler</text>
<text transform="translate(411.0,757.6) rotate(-90)" font-family='"Liberation Sans", sans-serif' font-size="16.5" textLength="201.2" lengthAdjust="spacingAndGlyphs">Greater swiss mountain dog</text>
<text transform="translate(440.5,757.6) rotate(-90)" font-family='"Liberation Sans", sans-serif' font-size="16.5" textLength="78.7" lengthAdjust="spacingAndGlyphs">Schipperke</text>
<text transform="translate(470.0,757.6) rotate(-90)" font-family='"Liberation Sans", sans-serif' font-size="16.5" textLength="37.8" lengthAdjust="spacingAndGlyphs">Collie</text>
<text transform="translate(499.4,757.6) rotate(-90)" font-family='"Liberation Sans", sans-serif' font-size="16.5" textLength="68.2" lengthAdjust="spacingAndGlyphs">Keeshond</text>
<text transform="translate(528.9,757.6) rotate(-90)" font-family='"Liberation Sans", sans-serif' font-size="16.5" textLength="82.2" lengthAdjust="spacingAndGlyphs">Eskimo dog</text>
<text transform="translate(558.4,757.6) rotate(-90)" font-family='"Liberation Sans", sans-serif' font-size="16.5" textLength="64.7" lengthAdjust="spacingAndGlyphs">Samoyed</text>
<text transform="translate(587.9,757.6) rotate(-90)" font-family='"Liberation Sans", sans-serif' font-size="16.5" textLength="37.8" lengthAdjust="spacingAndGlyphs">Chow</text>
<text transform="translate(617.4,757.6) rotate(-90)" font-family='"Liberation Sans", sans-serif' font-size="16.5" textLength="127.2" lengthAdjust="spacingAndGlyphs">Bedlington terrier</text>
<text transform="translate(646.8,757.6) rotate(-90)" font-family='"Liberation Sans", sans-serif' font-size="16.5" textLength="58.3" lengthAdjust="spacingAndGlyphs">Airedale</text>
<text transform="translate(676.3,757.6) rotate(-90)" font-family='"Liberation Sans", sans-serif' font-size="16.5" textLength="100.3" lengthAdjust="spacingAndGlyphs">Afghan hound</text>
<text transform="translate(705.8,757.6) rotate(-90)" font-family='"Liberation Sans", sans-serif' font-size="16.5" textLength="42" lengthAdjust="spacingAndGlyphs">Saluki</text>
<text transform="translate(735.3,757.6) rotate(-90)" font-family='"Liberation Sans", sans-serif' font-size="16.5" textLength="99.2" lengthAdjust="spacingAndGlyphs">Affenpinscher</text>
<text transform="translate(764.8,757.6) rotate(-90)" font-family='"Liberation Sans", sans-serif' font-size="16.5" textLength="122.5" lengthAdjust="spacingAndGlyphs">Japanese spaniel</text>
<text transform="translate(794.2,757.6) rotate(-90)" font-family='"Liberation Sans", sans-serif' font-size="16.5" textLength="87.5" lengthAdjust="spacingAndGlyphs">Maltese dog</text>
<text transform="translate(823.7,757.6) rotate(-90)" font-family='"Liberation Sans", sans-serif' font-size="16.5" textLength="81.7" lengthAdjust="spacingAndGlyphs">Irish terrier</text>
<text transform="translate(853.2,757.6) rotate(-90)" font-family='"Liberation Sans", sans-serif' font-size="16.5" textLength="140" lengthAdjust="spacingAndGlyphs">Scottish deerhound</text>
<text transform="translate(882.7,757.6) rotate(-90)" font-family='"Liberation Sans", sans-serif' font-size="16.5" textLength="98" lengthAdjust="spacingAndGlyphs">Scotch terrier</text>
<text transform="translate(935.4,757.6) rotate(-90)" font-family='"Liberation Sans", sans-serif' font-size="16.5" textLength="54.8" lengthAdjust="spacingAndGlyphs">Admiral</text>
<text transform="translate(961.8,757.6) rotate(-90)" font-family='"Liberation Sans", sans-serif' font-size="16.5" textLength="48.3" lengthAdjust="spacingAndGlyphs">Ringlet</text>
<text transform="translate(988.2,757.6) rotate(-90)" font-family='"Liberation Sans", sans-serif' font-size="16.5" textLength="56.7" lengthAdjust="spacingAndGlyphs">Peacock</text>
<text transform="translate(1014.7,757.6) rotate(-90)" font-family='"Liberation Sans", sans-serif' font-size="16.5" textLength="92.2" lengthAdjust="spacingAndGlyphs">Black grouse</text>
<text transform="translate(1041.1,757.6) rotate(-90)" font-family='"Liberation Sans", sans-serif' font-size="16.5" textLength="133.1" lengthAdjust="spacingAndGlyphs">European gallinule</text>
<text transform="translate(1067.5,757.6) rotate(-90)" font-family='"Liberation Sans", sans-serif' font-size="16.5" textLength="52.5" lengthAdjust="spacingAndGlyphs">Toucan</text>
<text transform="translate(1093.9,757.6) rotate(-90)" font-family='"Liberation Sans", sans-serif' font-size="16.5" textLength="20.9" lengthAdjust="spacingAndGlyphs">Jay</text>
<text transform="translate(1120.3,757.6) rotate(-90)" font-family='"Liberation Sans", sans-serif' font-size="16.5" textLength="47.7" lengthAdjust="spacingAndGlyphs">Coucal</text>
<text transform="translate(1146.8,757.6) rotate(-90)" font-family='"Liberation Sans", sans-serif' font-size="16.5" textLength="47" lengthAdjust="spacingAndGlyphs">Bittern</text>
<text transform="translate(1173.2,757.6) rotate(-90)" font-family='"Liberation Sans", sans-serif' font-size="16.5" textLength="54.8" lengthAdjust="spacingAndGlyphs">Limpkin</text>
<text transform="translate(1199.6,757.6) rotate(-90)" font-family='"Liberation Sans", sans-serif' font-size="16.5" textLength="63.8" lengthAdjust="spacingAndGlyphs">Flamingo</text>
<text transform="translate(1226.0,757.6) rotate(-90)" font-family='"Liberation Sans", sans-serif' font-size="16.5" textLength="110.5" lengthAdjust="spacingAndGlyphs">American egret</text>
<text transform="translate(1252.4,757.6) rotate(-90)" font-family='"Liberation Sans", sans-serif' font-size="16.5" textLength="66.4" lengthAdjust="spacingAndGlyphs">Albatross</text>
<text transform="translate(1278.9,757.6) rotate(-90)" font-family='"Liberation Sans", sans-serif' font-size="16.5" textLength="178" lengthAdjust="spacingAndGlyphs">Red-breasted merganser</text>
<text transform="translate(1305.3,757.6) rotate(-90)" font-family='"Liberation Sans", sans-serif' font-size="16.5" textLength="43.8" lengthAdjust="spacingAndGlyphs">Goose</text>
<path d="M 52 688 C 52 715, 70 730, 96 736" fill="none" stroke="#444" stroke-width="1"/>
<path d="M 107.5 549.5 C 130 580, 141 630, 141 680" fill="none" stroke="#444" stroke-width="1"/>
<path d="M 195.5 566 C 180 590, 170 620, 168 646" fill="none" stroke="#444" stroke-width="1"/>
<path d="M 363.5 583 C 368 640, 420 675, 513 687" fill="none" stroke="#444" stroke-width="1"/>
<path d="M 524.6 642.7 C 540 655, 550 670, 552.6 686" fill="none" stroke="#444" stroke-width="1"/>
<path d="M 525.4 519.5 C 535 600, 550 650, 580.6 711.6" fill="none" stroke="#444" stroke-width="1"/>
<path d="M 677.5 608.2 C 686 625, 686 650, 678.7 665.9" fill="none" stroke="#444" stroke-width="1"/>
<path d="M 674 505 C 700 560, 706 640, 700.2 706.7" fill="none" stroke="#444" stroke-width="1"/>
<path d="M 749.9 533.5 C 725 570, 718 620, 723.5 650.7" fill="none" stroke="#444" stroke-width="1"/>
<path d="M 812.9 528.2 C 780 560, 760 600, 757.6 627.8" fill="none" stroke="#444" stroke-width="1"/>
<path d="M 868.9 581.9 C 820 595, 795 630, 787.9 661.2" fill="none" stroke="#444" stroke-width="1"/>
<path d="M 1061.1 605.1 C 1100 650, 1150 690, 1184.2 696.7" fill="none" stroke="#444" stroke-width="1"/>
<path d="M 1132.7 605.1 C 1150 640, 1180 670, 1208.7 680.5" fill="none" stroke="#444" stroke-width="1"/>
<path d="M 1181.6 503.2 C 1180 580, 1220 640, 1262.5 664.4" fill="none" stroke="#444" stroke-width="1"/>
<path d="M 1289 580 C 1300 610, 1303 660, 1302 705" fill="none" stroke="#444" stroke-width="1"/>
<rect x="105.8" y="766.3" width="778" height="115.4" rx="10" fill="#cde9fb"/>
<rect x="921.3" y="766.3" width="388.2" height="115.4" rx="10" fill="#def6d6"/>
<path d="M139.8,784.8V795.2H169.3V784.8 M110.3,788.0V802.1H154.5V795.2 M198.7,777.2V790.7H228.2V777.2 M287.2,777.2V794.9H316.7V782.6 M257.7,785.3V805.2H301.9V794.9 M213.5,790.7V808.8H279.8V805.2 M132.4,802.1V817.3H246.6V808.8 M375.6,784.9V795.6H405.1V780.8 M346.1,786.7V804.8H390.4V795.6 M464.1,774.8V787.7H493.5V769.9 M552.5,783.5V790.4H582.0V777.7 M523.0,779.9V804.3H567.2V790.4 M478.8,787.7V806.1H545.1V804.3 M434.6,794.9V814.2H512.0V806.1 M368.2,804.8V841.0H473.3V814.2 M189.5,817.3V854.3H420.8V841.0 M611.5,777.7V796.1H640.9V786.7 M670.4,792.5V800.1H699.9V792.2 M626.2,796.1V822.0H685.2V800.1 M758.9,775.4V797.6H788.3V773.0 M729.4,784.4V801.9H773.6V797.6 M847.3,784.4V807.9H876.8V787.5 M817.8,798.9V812.8H862.0V807.9 M751.5,801.9V860.8H839.9V812.8 M655.7,822.0V867.0H795.7V860.8 M305.1,854.3V873.5H725.7V867.0" fill="none" stroke="#a3374c" stroke-width="2.8" stroke-linejoin="miter" stroke-linecap="butt"/>
<path d="M515.4,873.5V878" stroke="#8a9aa8" stroke-width="2.8"/>
<path d="M929.5,780.6V804.0H956.0V776.6" fill="none" stroke="#d99a22" stroke-width="2.8" stroke-linejoin="miter" stroke-linecap="butt"/>
<path d="M942.7,804V877" stroke="#8fa88a" stroke-width="2.8"/>
<path d="M1009.0,782.1V787.4H1035.5V779.8 M982.5,783.4V807.4H1022.2V787.4 M1088.4,783.4V807.9H1114.9V788.1 M1062.0,768.7V816.9H1101.7V807.9 M1002.3,807.4V823.3H1081.8V816.9 M1141.4,782.3V806.9H1167.9V778.5 M1194.4,782.0V794.3H1220.9V770.3 M1273.9,771.2V793.1H1300.4V782.7 M1247.4,784.4V802.1H1287.1V793.1 M1207.6,794.3V834.2H1267.2V802.1 M1154.7,806.9V852.2H1237.4V834.2 M1042.1,823.3V871.9H1196.1V852.2" fill="none" stroke="#84698a" stroke-width="2.8" stroke-linejoin="miter" stroke-linecap="butt"/>
<path d="M1119.1,871.9V877.8" stroke="#8fa88a" stroke-width="2.8"/>
<rect x="85.3" y="906.7" width="329.4" height="76.6" rx="10" fill="#cde9fb"/>
<rect x="1126.3" y="906.5" width="181.6" height="76.6" rx="10" fill="#def6d6"/>
<path d="M105.0,916.0V923.2H117.1V916.0 M92.9,918.2V928.0H111.0V923.2 M129.2,910.7V920.1H141.3V910.7 M165.4,910.7V923.0H177.5V914.4 M153.4,916.3V930.2H171.5V923.0 M135.2,920.1V932.7H162.4V930.2 M102.0,928.0V938.6H148.8V932.7 M201.7,916.0V923.5H213.8V913.2 M189.6,917.3V929.9H207.8V923.5 M238.0,909.0V918.0H250.1V905.6 M274.2,915.1V919.9H286.3V911.0 M262.2,912.6V929.6H280.3V919.9 M244.0,918.0V930.8H271.2V929.6 M225.9,923.0V936.5H257.6V930.8 M198.7,929.9V955.1H241.8V936.5 M125.4,938.6V964.4H220.2V955.1 M298.4,911.0V923.9H310.5V917.3 M322.6,921.3V926.6H334.7V921.1 M304.5,923.9V941.9H328.7V926.6 M358.9,909.4V924.9H371.0V907.8 M346.8,915.7V927.9H364.9V924.9 M395.1,915.7V932.1H407.2V917.9 M383.1,925.8V935.5H401.2V932.1 M355.9,927.9V968.9H392.1V935.5 M316.6,941.9V973.3H374.0V968.9 M172.8,964.4V977.8H345.3V973.3" fill="none" stroke="#a3374c" stroke-width="2.8" stroke-linejoin="miter" stroke-linecap="butt"/>
<path d="M1132.6,913.9V930.0H1144.7V911.1" fill="none" stroke="#d99a22" stroke-width="2.8" stroke-linejoin="miter" stroke-linecap="butt"/>
<path d="M1168.9,914.9V918.6H1181.0V913.4 M1156.8,915.8V932.4H1175.0V918.6 M1205.2,915.8V932.7H1217.3V919.1 M1193.1,905.7V938.9H1211.2V932.7 M1165.9,932.4V943.4H1202.2V938.9 M1229.4,915.1V932.0H1241.5V912.5 M1253.5,914.9V923.4H1265.6V906.8 M1289.8,907.4V922.5H1301.9V915.4 M1277.7,916.5V928.7H1295.9V922.5 M1259.6,923.4V950.9H1286.8V928.7 M1235.4,932.0V963.3H1273.2V950.9 M1184.0,943.4V976.9H1254.3V963.3" fill="none" stroke="#84698a" stroke-width="2.8" stroke-linejoin="miter" stroke-linecap="butt"/>
<path d="M419.3,909.2V935.8H431.4V903.7 M443.5,906.1V917.1H455.6V914.0 M467.7,907.3V920.3H479.8V906.9 M491.9,917.1V923.9H504.0V912.1 M473.7,920.3V929.0H497.9V923.9 M449.6,917.1V940.5H485.8V929.0 M425.4,935.8V957.0H467.7V940.5" fill="none" stroke="#a65a2a" stroke-width="2.8" stroke-linejoin="miter" stroke-linecap="butt"/>
<path d="M516.0,908.4V920.0H528.1V915.6 M540.2,912.7V927.4H552.3V908.4 M522.1,920.0V935.3H546.3V927.4 M564.4,923.5V932.2H576.5V904.8 M600.7,916.3V923.8H612.8V917.1 M588.6,918.7V935.8H606.7V923.8 M570.5,932.2V954.8H597.7V935.8 M649.0,914.0V918.7H661.1V911.6 M636.9,911.6V923.1H655.1V918.7 M624.9,914.0V934.5H646.0V923.1 M673.2,912.1V923.1H685.3V909.5 M709.5,911.6V924.7H721.6V904.2 M697.4,914.0V931.4H715.5V924.7 M679.3,923.1V938.5H706.5V931.4 M635.4,934.5V965.0H692.9V938.5 M584.1,954.8V970.1H664.2V965.0 M534.2,935.3V980.4H624.1V970.1" fill="none" stroke="#3b7ebf" stroke-width="2.8" stroke-linejoin="miter" stroke-linecap="butt"/>
<path d="M757.9,902.6V922.2H769.9V914.8 M745.8,919.5V933.7H763.9V922.2 M733.7,910.8V936.9H754.8V933.7" fill="none" stroke="#f28a16" stroke-width="2.8" stroke-linejoin="miter" stroke-linecap="butt"/>
<path d="M782.0,914.8V921.6H794.1V909.2 M818.3,915.2V918.7H830.4V900.5 M806.2,915.6V927.4H824.3V918.7 M788.1,921.6V929.5H815.3V927.4 M878.8,906.1V919.5H890.8V910.0 M866.7,903.2V927.9H884.8V919.5 M854.6,920.0V935.3H875.7V927.9 M842.5,910.8V939.0H865.1V935.3 M801.7,929.5V966.2H853.8V939.0" fill="none" stroke="#9b52a8" stroke-width="2.8" stroke-linejoin="miter" stroke-linecap="butt"/>
<path d="M939.2,912.7V925.0H951.3V908.0 M927.1,917.9V932.2H945.2V925.0 M915.0,913.2V935.8H936.2V932.2 M902.9,918.7V959.8H925.6V935.8" fill="none" stroke="#999999" stroke-width="2.8" stroke-linejoin="miter" stroke-linecap="butt"/>
<path d="M987.6,915.2V927.9H999.6V906.9 M975.5,915.9V936.4H993.6V927.9 M963.4,907.3V974.9H984.5V936.4" fill="none" stroke="#d62728" stroke-width="2.8" stroke-linejoin="miter" stroke-linecap="butt"/>
<path d="M1011.7,911.1V932.6H1023.8V914.0" fill="none" stroke="#a65a2a" stroke-width="2.8" stroke-linejoin="miter" stroke-linecap="butt"/>
<path d="M1072.2,904.2V921.1H1084.3V915.6 M1060.1,918.4V925.8H1078.2V921.1 M1048.0,920.3V927.9H1069.2V925.8 M1108.5,913.2V928.2H1120.6V920.0 M1096.4,913.2V935.3H1114.5V928.2 M1058.6,927.9V938.5H1105.4V935.3 M1035.9,915.9V955.9H1082.0V938.5" fill="none" stroke="#3b7ebf" stroke-width="2.8" stroke-linejoin="miter" stroke-linecap="butt"/>
<path d="M446.5,957.0V990.4H579.1V980.4 M259.0,977.8V998.0H512.8V990.4 M914.3,959.8V993.0H974.0V974.9 M827.7,966.2V995.5H944.1V993.0 M744.2,936.9V997.0H885.9V995.5 M1017.8,932.6V990.4H1059.0V955.9 M1138.7,930.0V996.7H1219.2V976.9 M1038.4,990.4V999.4H1178.9V996.7 M815.1,997.0V1002.0H1108.6V999.4 M385.9,998.0V1003.5H961.9V1002.0" fill="none" stroke="#999999" stroke-width="2.8" stroke-linejoin="miter" stroke-linecap="butt"/>
<rect x="81" y="898.6" width="1232.3" height="110.8" fill="none" stroke="#111" stroke-width="2"/>
<line x1="74" y1="901.6" x2="81" y2="901.6" stroke="#111" stroke-width="2"/>
<line x1="74" y1="956.9" x2="81" y2="956.9" stroke="#111" stroke-width="2"/>
<text x="66.5" y="907.8" text-anchor="end" font-family='"Liberation Sans", sans-serif' font-size="16">0</text>
<text x="65.5" y="963.1" text-anchor="end" font-family='"Liberation Sans", sans-serif' font-size="16" textLength="31" lengthAdjust="spacingAndGlyphs">−20</text>
<text transform="translate(19,954.2) rotate(-90)" text-anchor="middle" font-family='"Liberation Sans", sans-serif' font-size="20" textLength="111" lengthAdjust="spacingAndGlyphs">log density</text>
<line x1="262.3" y1="1009.4" x2="262.3" y2="1016.5" stroke="#111" stroke-width="2"/>
<text transform="translate(262.3,1030.3) rotate(-20)" text-anchor="middle" dominant-baseline="central" font-family='"Liberation Sans", sans-serif' font-size="16.5" textLength="35.4" lengthAdjust="spacingAndGlyphs">dogs</text>
<line x1="449.4" y1="1009.4" x2="449.4" y2="1016.5" stroke="#111" stroke-width="2"/>
<text transform="translate(449.4,1036.3) rotate(-20)" text-anchor="middle" dominant-baseline="central" font-family='"Liberation Sans", sans-serif' font-size="16.5" textLength="72.3" lengthAdjust="spacingAndGlyphs">monkeys</text>
<line x1="576.5" y1="1009.4" x2="576.5" y2="1016.5" stroke="#111" stroke-width="2"/>
<text transform="translate(576.5,1045.8) rotate(-20)" text-anchor="middle" dominant-baseline="central" font-family='"Liberation Sans", sans-serif' font-size="16.5" textLength="128.6" lengthAdjust="spacingAndGlyphs">other mammals</text>
<line x1="745.6" y1="1009.4" x2="745.6" y2="1016.5" stroke="#111" stroke-width="2"/>
<text transform="translate(745.6,1040.6) rotate(-20)" text-anchor="middle" dominant-baseline="central" font-family='"Liberation Sans", sans-serif' font-size="16.5" textLength="97.3" lengthAdjust="spacingAndGlyphs">sea animals</text>
<line x1="829.7" y1="1009.4" x2="829.7" y2="1016.5" stroke="#111" stroke-width="2"/>
<text transform="translate(829.7,1034.6) rotate(-20)" text-anchor="middle" dominant-baseline="central" font-family='"Liberation Sans", sans-serif' font-size="16.5" textLength="58.6" lengthAdjust="spacingAndGlyphs">reptiles</text>
<line x1="915.3" y1="1009.4" x2="915.3" y2="1016.5" stroke="#111" stroke-width="2"/>
<text transform="translate(915.3,1040.6) rotate(-20)" text-anchor="middle" dominant-baseline="central" font-family='"Liberation Sans", sans-serif' font-size="16.5" textLength="92.9" lengthAdjust="spacingAndGlyphs">anthozoans</text>
<line x1="975.2" y1="1009.4" x2="975.2" y2="1016.5" stroke="#111" stroke-width="2"/>
<text transform="translate(975.2,1042.4) rotate(-20)" text-anchor="middle" dominant-baseline="central" font-family='"Liberation Sans", sans-serif' font-size="16.5" textLength="98.4" lengthAdjust="spacingAndGlyphs">crustaceans</text>
<line x1="1060.1" y1="1009.4" x2="1060.1" y2="1016.5" stroke="#111" stroke-width="2"/>
<text transform="translate(1060.1,1034.6) rotate(-20)" text-anchor="middle" dominant-baseline="central" font-family='"Liberation Sans", sans-serif' font-size="16.5" textLength="56.1" lengthAdjust="spacingAndGlyphs">insects</text>
<line x1="1222.6" y1="1009.4" x2="1222.6" y2="1016.5" stroke="#111" stroke-width="2"/>
<text transform="translate(1222.6,1031.9) rotate(-20)" text-anchor="middle" dominant-baseline="central" font-family='"Liberation Sans", sans-serif' font-size="16.5" textLength="38.2" lengthAdjust="spacingAndGlyphs">birds</text>
<line x1="1313.3" y1="1009.4" x2="1313.3" y2="1016.5" stroke="#111" stroke-width="2"/>
</svg></body></html>
